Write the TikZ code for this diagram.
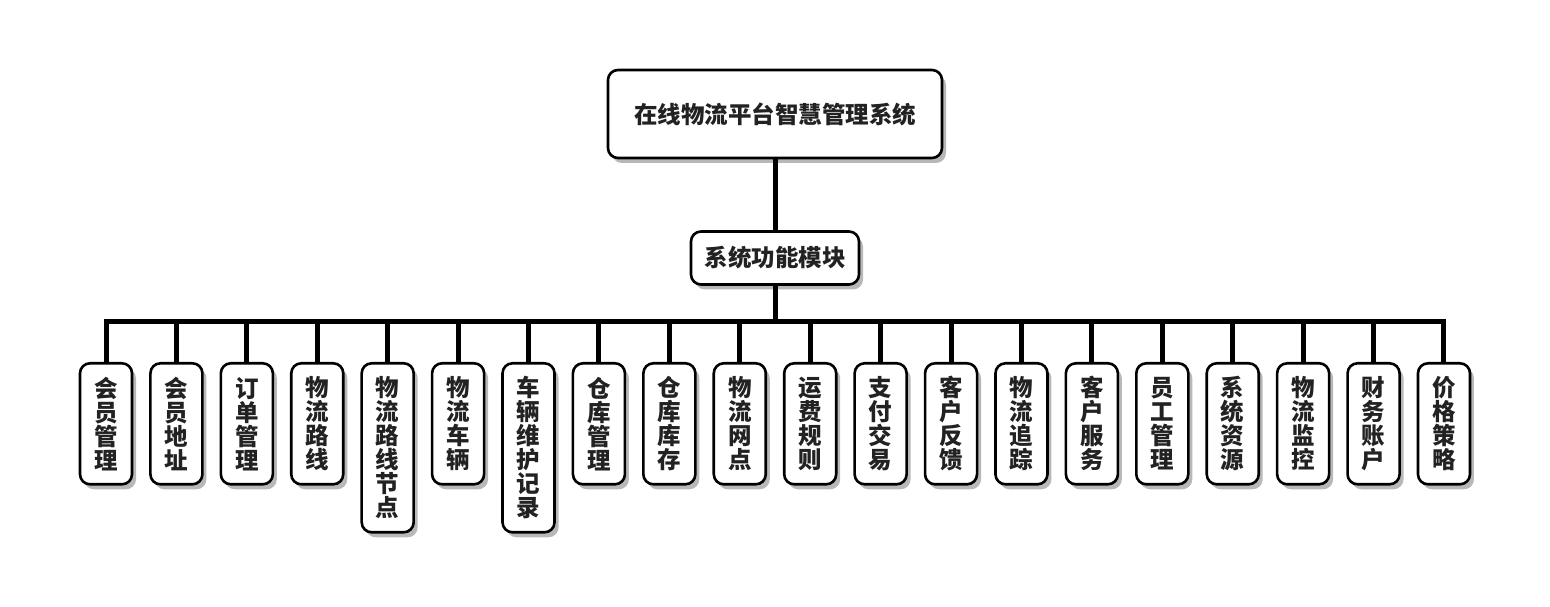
\documentclass[tikz,border=0pt]{standalone}
\usepackage{fontspec}
\newfontfamily\cjk{Noto Sans CJK SC}
\usetikzlibrary{shadows}
\definecolor{textc}{HTML}{222222}
\tikzset{
  box/.style={draw=black, line width=2.6pt, rounded corners=10pt, fill=white,
    text=textc, font=\cjk\bfseries\fontsize{23.5}{24}\selectfont, align=center, inner sep=0pt,
    drop shadow={shadow xshift=4pt, shadow yshift=-5pt, fill=black, opacity=0.28}},
  leafbox/.style={box, anchor=north, minimum width=52pt},
  link/.style={line width=5pt, draw=black}
}
\begin{document}
\begin{tikzpicture}[x=1pt,y=1pt]
\useasboundingbox (0,0) rectangle (1550,607);
\node[box, minimum width=334pt, minimum height=88pt] (root) at (775,493) {在线物流平台智慧管理系统};
\node[box, minimum width=168pt, minimum height=53pt] (mid) at (775,349) {系统功能模块};
\coordinate (bus) at (775,285);
\draw[link] (root.south) -- (mid.north);
\draw[link] (mid.south) -- (bus);
\foreach \t/\n [count=\i] in {
  {会\\员\\管\\理}/4, {会\\员\\地\\址}/4, {订\\单\\管\\理}/4, {物\\流\\路\\线}/4,
  {物\\流\\路\\线\\节\\点}/6, {物\\流\\车\\辆}/4, {车\\辆\\维\\护\\记\\录}/6,
  {仓\\库\\管\\理}/4, {仓\\库\\库\\存}/4, {物\\流\\网\\点}/4, {运\\费\\规\\则}/4,
  {支\\付\\交\\易}/4, {客\\户\\反\\馈}/4, {物\\流\\追\\踪}/4, {客\\户\\服\\务}/4,
  {员\\工\\管\\理}/4, {系\\统\\资\\源}/4, {物\\流\\监\\控}/4, {财\\务\\账\\户}/4,
  {价\\格\\策\\略}/4} {
  \pgfmathsetmacro{\xx}{106+(\i-1)*70.42}
  \pgfmathsetmacro{\hh}{24*\n+25}
  \node[leafbox, minimum height=\hh pt] (l\i) at (\xx,245) {\t};
  \draw[link] (bus) -| (l\i.north);
}
\end{tikzpicture}
\end{document}
